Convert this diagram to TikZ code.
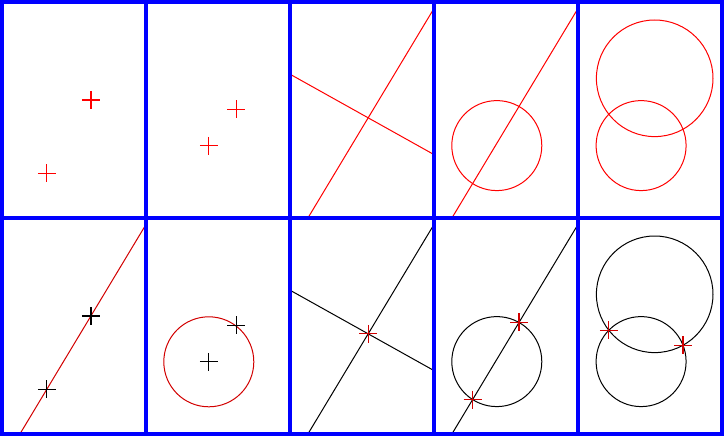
\documentclass[tikz,border=0pt]{standalone}
\usetikzlibrary{calc,intersections}
\definecolor{dred}{RGB}{210,0,0}
\begin{document}
\begin{tikzpicture}[x=1pt,y=-1pt,
  gridline/.style={draw=blue,line width=4pt},
  fig/.style={line width=1pt},
  xcross/.pic={\draw[line width=1.3pt] (-9,0)--(9,0) (0,-9)--(0,9);}
]
\useasboundingbox (0,0) rectangle (724,436);
\fill[white] (0,0) rectangle (724,436);
% cell 1
\begin{scope}[shift={(0,0)}]
  \coordinate (A) at (46.8,173.3); \coordinate (B) at (90.9,100);
  \pic[red] at (A) {xcross}; \pic[red] at (B) {xcross};
\end{scope}
% cell 2
\begin{scope}[shift={(144,0)}]
  \coordinate (C) at (64.8,145.8); \coordinate (D) at (92.3,109.3);
  \pic[red] at (C) {xcross}; \pic[red] at (D) {xcross};
\end{scope}
% cell 3
\begin{scope}[shift={(288,0)}]
  \clip (4,4) rectangle (144,216);
  \coordinate (A) at (46.8,173.3); \coordinate (B) at (90.9,100);
  \coordinate (E) at (4,75.3); \coordinate (F) at (143.7,153.3);
  \draw[fig,red] ($(A)!-3!(B)$) -- ($(A)!4!(B)$);
  \draw[fig,red] ($(E)!-1!(F)$) -- ($(E)!2!(F)$);
\end{scope}
% cell 4
\begin{scope}[shift={(432,0)}]
  \clip (4,4) rectangle (144,216);
  \coordinate (A) at (46.8,173.3); \coordinate (B) at (90.9,100);
  \coordinate (C) at (64.8,145.6);
  \draw[fig,red] ($(A)!-3!(B)$) -- ($(A)!4!(B)$);
  \draw[fig,red] (C) circle[radius=45];
\end{scope}
% cell 5
\begin{scope}[shift={(576,0)}]
  \coordinate (C) at (65.1,145.6); \coordinate (G) at (78.7,78.3);
  \draw[fig,red] (C) circle[radius=45];
  \draw[fig,red] (G) circle[radius=58.3];
\end{scope}
% cell 6
\begin{scope}[shift={(0,216)}]
  \coordinate (A) at (46.8,173.3); \coordinate (B) at (90.9,100);
  \begin{scope}
    \clip (4,4) rectangle (144,216);
    \draw[fig,dred] ($(A)!-3!(B)$) -- ($(A)!4!(B)$);
  \end{scope}
  \pic[black] at (A) {xcross}; \pic[black] at (B) {xcross};
\end{scope}
% cell 7
\begin{scope}[shift={(144,216)}]
  \coordinate (C) at (64.8,145.8); \coordinate (D) at (92.3,109.3);
  \draw[fig,dred] (C) circle[radius=45];
  \pic[black] at (C) {xcross}; \pic[black] at (D) {xcross};
\end{scope}
% cell 8
\begin{scope}[shift={(288,216)}]
  \coordinate (A) at (46.8,173.3); \coordinate (B) at (90.9,100);
  \coordinate (E) at (4,75.3); \coordinate (F) at (143.7,153.3);
  \begin{scope}
    \clip (4,4) rectangle (144,216);
    \draw[fig,black,name path global=l1] ($(A)!-3!(B)$) -- ($(A)!4!(B)$);
    \draw[fig,black,name path global=l2] ($(E)!-1!(F)$) -- ($(E)!2!(F)$);
  \end{scope}
  \path[name intersections={of=l1 and l2,by={P}}];
  \pic[dred] at (P) {xcross};
\end{scope}
% cell 9
\begin{scope}[shift={(432,216)}]
  \coordinate (A) at (46.8,173.3); \coordinate (B) at (90.9,100);
  \coordinate (C) at (64.8,145.6);
  \begin{scope}
    \clip (4,4) rectangle (144,216);
    \draw[fig,black,name path global=l3] ($(A)!-3!(B)$) -- ($(A)!4!(B)$);
    \draw[fig,black,name path global=c3] (C) circle[radius=45];
  \end{scope}
  \path[name intersections={of=l3 and c3,by={Q1,Q2}}];
  \pic[dred] at (Q1) {xcross}; \pic[dred] at (Q2) {xcross};
\end{scope}
% cell 10
\begin{scope}[shift={(576,216)}]
  \coordinate (C) at (65.1,145.6); \coordinate (G) at (78.7,78.3);
  \draw[fig,black,name path global=c4] (C) circle[radius=45];
  \draw[fig,black,name path global=c5] (G) circle[radius=58.3];
  \path[name intersections={of=c4 and c5,by={R1,R2}}];
  \pic[dred] at (R1) {xcross}; \pic[dred] at (R2) {xcross};
\end{scope}
% grid
\draw[gridline] (2,2) rectangle (722,434);
\foreach \x in {146,290,434,578} \draw[gridline] (\x,2) -- (\x,434);
\draw[gridline] (2,218) -- (722,218);
\end{tikzpicture}
\end{document}
